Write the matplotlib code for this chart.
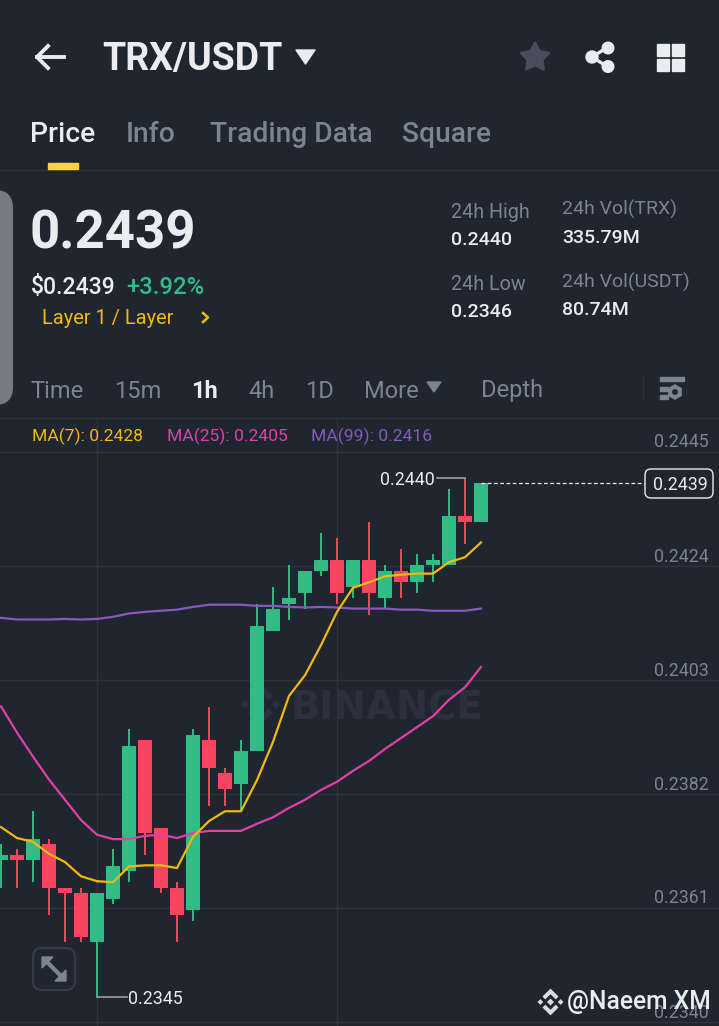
import numpy as np
import matplotlib
matplotlib.use("Agg")
import matplotlib.pyplot as plt
from matplotlib.patches import FancyBboxPatch, Polygon, Circle, Rectangle

# ---------- data ----------
opens = [.2370,.2371,.2370,.2373,.2365,.2364,.2355,.2363,.2368,.2392,.2376,.2365,.2361,.2392,.2386,.2384,
         .2390,.2412,.2417,.2419,.2423,.2425,.2420,.2425,.2418,.2423,.2421,.2424,.2424,.2433,.2432]
highs = [.2373,.2372,.2379,.2374,.2365,.2365,.2364,.2372,.2394,.2392,.2376,.2366,.2394,.2398,.2387,.2392,
         .2417,.2420,.2424,.2423,.2430,.2429,.2425,.2432,.2424,.2427,.2426,.2426,.2438,.2440,.2439]
lows =  [.2365,.2365,.2366,.2360,.2355,.2355,.2345,.2362,.2366,.2371,.2364,.2355,.2359,.2380,.2380,.2379,
         .2390,.2412,.2414,.2416,.2422,.2417,.2418,.2415,.2416,.2418,.2419,.2421,.2424,.2428,.2432]
closes =[.2371,.2370,.2374,.2365,.2364,.2356,.2364,.2369,.2391,.2375,.2365,.2360,.2393,.2387,.2383,.2390,
         .2413,.2416,.2418,.2423,.2425,.2419,.2425,.2419,.2423,.2421,.2424,.2425,.2433,.2432,.2439]
ma7 = [.23761,.23741,.23734,.23712,.23697,.23671,.23662,.23660,.23689,.23691,.23691,.23686,.23743,.23772,.23790,.23790,
       .23847,.23917,.24001,.24039,.24094,.24155,.24199,.24209,.24220,.24223,.24225,.24225,.24246,.24255,.24282]
ma25 = [.23982,.23934,.23890,.23848,.23811,.23774,.23747,.23739,.23739,.23745,.23747,.23741,.23750,.23754,.23754,.23754,
        .23767,.23779,.23796,.23811,.23829,.23844,.23864,.23882,.23904,.23924,.23944,.23964,.23994,.24017,.24054]
ma99 = [.24144,.24141,.24141,.24141,.24142,.24141,.24142,.24146,.24152,.24155,.24157,.24159,.24164,.24168,.24168,.24168,
        .24166,.24166,.24164,.24163,.24164,.24163,.24161,.24161,.24161,.24159,.24159,.24157,.24157,.24157,.24161]
grid_prices = [.24448,.24239,.24030,.23821,.23613,.23404]
price_labels = ["0.2445","0.2424","0.2403","0.2382","0.2361","0.2340"]
grid_candles = [6, 21]
last_price = .2439
high_price = .2440
low_price = .2345
high_idx = 29
low_idx = 6
tabs = ["Price", "Info", "Trading Data", "Square"]
intervals = ["Time", "15m", "1h", "4h", "1D", "More", "Depth"]

# ---------- style ----------
BG = "#1F2630"
GRID = "#2D343E"
WHITE = "#EAECEF"
GRAY = "#7C8491"
GREEN = "#2EBD85"
RED = "#F6465D"
YEL = "#F0B90B"
PINK = "#E23FA9"
PURP = "#8559BE"
WM = "#2A313C"
plt.rcParams["font.family"] = ["Roboto", "DejaVu Sans"]

fig = plt.figure(figsize=(7.19, 10.26), dpi=100, facecolor=BG)

def pixel_axes(z):
    a = fig.add_axes([0, 0, 1, 1], facecolor="none", zorder=z)
    a.set_xlim(0, 719)
    a.set_ylim(1026, 0)
    a.axis("off")
    return a

def logo(a, cx, cy, r, color, **kw):
    def diamond(x, y, h):
        a.add_patch(Polygon([(x - h, y), (x, y - h), (x + h, y), (x, y + h)], closed=True, color=color, lw=0, **kw))
    diamond(cx, cy, 0.27 * r)
    diamond(cx - 0.78 * r, cy, 0.22 * r)
    diamond(cx + 0.78 * r, cy, 0.22 * r)
    for s in (-1, 1):
        a.add_patch(Polygon([(cx - 0.62 * r, cy + s * 0.42 * r), (cx, cy + s * 1.03 * r), (cx + 0.62 * r, cy + s * 0.42 * r),
                             (cx + 0.40 * r, cy + s * 0.20 * r), (cx, cy + s * 0.60 * r), (cx - 0.40 * r, cy + s * 0.20 * r)],
                            closed=True, color=color, lw=0, **kw))

# ---------- watermark under the chart ----------
back = pixel_axes(0)
logo(back, 260.5, 704.5, 20, WM)
back.text(291, 705, "BINANCE", color=WM, fontsize=27.8, fontweight="bold", family="DejaVu Sans",
          va="center_baseline", ha="left")

# ---------- chart axes (spans pixel rows 418..1026) ----------
ax = fig.add_axes([0, 0, 1, (1026 - 418) / 1026], facecolor="none", zorder=1)
ax.set_xlim(-1 / 16, 718 / 16)
ax.set_ylim(.2440 - 548 / 54630, .2440 + 60 / 54630)
ax.axis("off")

ax.hlines(grid_prices, -1, 45, color=GRID, lw=1.0, zorder=1)
ax.vlines(grid_candles, 0.2, 0.26, color=GRID, lw=1.0, zorder=1)

xs = range(len(opens))
for i, o, h, l, c in zip(xs, opens, highs, lows, closes):
    col = GREEN if c >= o else RED
    ax.vlines(i, l, h, color=col, lw=1.4, zorder=2)
    ax.bar(i, abs(c - o), bottom=min(o, c), width=0.9, color=col, zorder=3)

ax.plot(xs, ma99, color=PURP, lw=1.6, zorder=4)
ax.plot(xs, ma25, color=PINK, lw=1.6, zorder=4)
ax.plot(xs, ma7, color=YEL, lw=1.6, zorder=4)

for t, s in zip(grid_prices, price_labels):
    ax.annotate(s, (44.22, t), xytext=(0, 6.8), textcoords="offset points",
                color=GRAY, fontsize=12.8, ha="right", va="center", zorder=5)

def label(x, p, s, ha):
    ax.annotate(s, (x, p), xytext=(0, -1.2), textcoords="offset points",
                color=WHITE, fontsize=12.8, ha=ha, va="center", zorder=6)

ax.plot([len(opens) - 1, 40.2], [last_price, last_price], color=WHITE, lw=0.9, ls=(0, (3, 2)), zorder=5)
label(42.45, last_price, f"{last_price:.4f}", "center")
ax.plot([high_idx, high_idx - 1.75], [high_price, high_price], color="#9A9FA6", lw=1.2, zorder=5)
label(high_idx - 1.9, high_price, f"{high_price:.4f}", "right")
ax.plot([low_idx, low_idx + 1.9], [low_price, low_price], color="#9A9FA6", lw=1.2, zorder=5)
label(low_idx + 1.95, low_price, f"{low_price:.4f}", "left")

# ---------- UI overlay in pixel coordinates ----------
ui = pixel_axes(2)

def T(x, y, s, size, color=WHITE, weight="normal", ha="left"):
    ui.text(x, y + 2, s, fontsize=size, color=color, fontweight=weight, ha=ha, va="center")

# header
ui.plot([37, 64], [57, 57], color=WHITE, lw=2.8)
ui.plot([48, 37, 48], [46, 57, 68], color=WHITE, lw=2.8)
T(102, 58, "TRX/USDT", 27, weight="bold")
ui.add_patch(Polygon([(296, 50), (315, 50), (305.5, 64)], closed=True, color=WHITE, joinstyle="round"))
ang = np.deg2rad(np.arange(10) * 36 - 90)
rad = np.where(np.arange(10) % 2 == 0, 14.5, 7.5)
ui.add_patch(Polygon(np.c_[535 + rad * np.cos(ang), 57.5 + rad * np.sin(ang)], closed=True,
                     facecolor="#474D5A", edgecolor="#474D5A", lw=2, joinstyle="round"))
ui.plot([608, 592, 608], [47, 57, 67], color=WHITE, lw=2.4)
for cx, cy, r in [(608, 48, 5.8), (592, 57, 6), (608, 66.5, 5.8)]:
    ui.add_patch(Circle((cx, cy), r, color=WHITE))
for x0, y0 in [(657, 44), (672, 44), (657, 59), (672, 59)]:
    ui.add_patch(Rectangle((x0, y0), 12, 12, color=WHITE))

# tabs
for x, s, c in zip([30, 126, 210, 402], tabs, [WHITE, GRAY, GRAY, GRAY]):
    T(x, 133, s, 20.3, color=c, weight="medium")
ui.add_patch(Rectangle((48, 163), 30, 6, color="#FCD535", zorder=3))
ui.plot([0, 719], [169.5, 169.5], color=GRID, lw=1)

# price panel
ui.add_patch(FancyBboxPatch((-30, 190), 43, 215, boxstyle="round,pad=0,rounding_size=18", color="#757B82", lw=0))
T(29, 232, "0.2439", 38, weight="bold")
T(31, 286, "$0.2439", 16.6, weight="medium")
T(126, 286, "+3.92%", 17.2, color=GREEN, weight="medium")
T(42, 317, "Layer 1 / Layer", 14.4, color=YEL)
ui.plot([203, 208, 203], [313, 317.5, 322], color=YEL, lw=1.8)
T(451, 210, "24h High", 14.2, color=GRAY)
T(451, 238, "0.2440", 14, weight="medium")
T(451, 282, "24h Low", 14.2, color=GRAY)
T(451, 310, "0.2346", 14, weight="medium")
T(562, 207, "24h Vol(TRX)", 14, color=GRAY)
T(562, 236, "335.79M", 14, weight="medium")
T(562, 280, "24h Vol(USDT)", 14, color=GRAY)
T(562, 308, "80.74M", 14, weight="medium")

# interval row
for x, s in zip([30, 114, 191, 248, 305, 364, 481], intervals):
    active = s == "1h"
    T(x, 389, s, 17, color=WHITE if active else GRAY, weight="bold" if active else "normal")
ui.add_patch(Polygon([(427, 382), (441, 382), (434, 392)], closed=True, color=GRAY))
ui.plot([642.5, 642.5], [375, 400], color=GRID, lw=1)
ui.add_patch(Rectangle((660, 377), 24, 4, color=GRAY))
ui.add_patch(Rectangle((660, 387), 8, 3.5, color=GRAY))
ui.add_patch(Rectangle((660, 395), 8, 3.5, color=GRAY))
ui.scatter([675], [392], marker="h", s=130, facecolor=GRAY, edgecolor="none")
ui.scatter([675], [392], marker="o", s=18, facecolor=BG, edgecolor="none")
ui.plot([0, 719], [418, 418], color=GRID, lw=1)

# MA legend
T(32, 434, "MA(7): 0.2428", 12.6, color=YEL)
T(167, 434, "MA(25): 0.2405", 12.6, color=PINK)
T(311, 434, "MA(99): 0.2416", 12.6, color=PURP)

# last price box
ui.add_patch(FancyBboxPatch((645, 469), 68, 29, boxstyle="round,pad=0,rounding_size=6",
                            facecolor="none", edgecolor=WHITE, lw=1.0))

# expand button
ui.add_patch(FancyBboxPatch((33, 948), 42, 42, boxstyle="round,pad=0,rounding_size=9",
                            facecolor="none", edgecolor="#343B47", lw=1.6))
ui.plot([46, 62], [961, 977], color=GRAY, lw=3)
ui.add_patch(Polygon([(42, 957), (53, 957), (42, 968)], closed=True, color=GRAY))
ui.add_patch(Polygon([(66, 981), (55, 981), (66, 970)], closed=True, color=GRAY))

# signature
logo(ui, 550.5, 1002, 13, "#DADCDF", zorder=6)
T(567, 1000, "@Naeem XM", 17.7, weight="medium")

fig.savefig("out.png", dpi=100, facecolor=BG)
